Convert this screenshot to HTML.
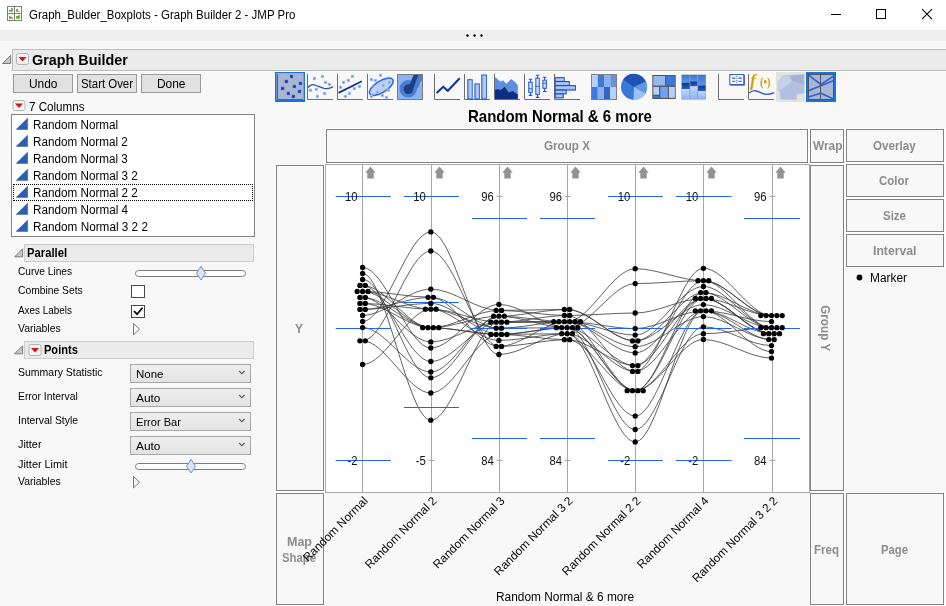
<!DOCTYPE html>
<html><head><meta charset="utf-8"><title>Graph_Bulder_Boxplots - Graph Builder 2 - JMP Pro</title>
<style>
html,body{margin:0;padding:0}
body{width:946px;height:606px;overflow:hidden;position:relative;background:#f8f8f8;font-family:"Liberation Sans",sans-serif;font-size:12px;color:#000}
.a{position:absolute}
.t{position:absolute;white-space:pre;line-height:1;transform-origin:0 50%}
.titlebar{left:0;top:0;width:946px;height:30px;background:#fff}
.menuband{left:0;top:30px;width:946px;height:11px;background:#f0f0f0}
.hdr{left:12px;top:49px;width:940px;height:22px;background:#ebebeb;border:1px solid #bdbdbd;box-sizing:border-box}
.btn{position:absolute;box-sizing:border-box;border:1px solid #9a9a9a;background:#e1e1e1;height:19px;top:74px}
.list{left:11px;top:114px;width:244px;height:123px;background:#fff;border:1px solid #828282;box-sizing:border-box}
.sec{position:absolute;left:24px;width:230px;height:18px;background:#ebebeb;border:1px solid #cdcdcd;box-sizing:border-box}
.sel{position:absolute;left:130px;width:121px;height:19px;box-sizing:border-box;border:1px solid #a8a8a8;background:linear-gradient(#efefef,#e2e2e2)}
.chk{position:absolute;left:131px;width:14px;height:13px;box-sizing:border-box;border:1px solid #4a4a4a;background:#fff}
.trk{position:absolute;left:135px;width:111px;height:7px;box-sizing:border-box;border:1px solid #7c7c7c;border-radius:3.5px;background:#fff}
.zone{position:absolute;box-sizing:border-box;border:1px solid #828282;background:#f8f8f8;outline:1px solid #fff;color:#8a8a8a;font-weight:bold}
svg{position:absolute;left:0;top:0;overflow:visible}
.al{font-family:"Liberation Sans",sans-serif;font-size:11.3px;fill:#111}
.rl{font-family:"Liberation Sans",sans-serif;font-size:11.8px;fill:#000}
.zt{font-family:"Liberation Sans",sans-serif;font-size:13.5px;font-weight:bold;fill:#8c8c8c}
</style></head><body>
<div class="a titlebar"></div>
<div class="a menuband"></div>
<div class="a hdr"></div>

<!-- title bar -->
<svg width="946" height="48" viewBox="0 0 946 48">
<rect x="7.5" y="6.5" width="14" height="14" fill="#fff" stroke="#7e7e7e"/>
<path d="M14.5 7v13M8 13.5h13" stroke="#7e7e7e" fill="none"/>
<path d="M9 11.8V10h2.1V8h1.7v3.8zM16.1 11.8V9H18v2h2v.800zM9 18.8V16h1.6v1h2.2v1.8zM16.1 18.8V16h2.1v-.900h1.6v3.7z" fill="#68a828"/>
<path d="M831 14.5h10" stroke="#000" fill="none"/>
<rect x="876.5" y="9.5" width="9" height="9" fill="none" stroke="#000"/>
<path d="M922 9.2l10 10M932 9.2l-10 10" stroke="#000" stroke-width="1.1" fill="none"/>
<circle cx="467.5" cy="35.5" r="1.2"/><circle cx="474.5" cy="35.5" r="1.2"/><circle cx="481.5" cy="35.5" r="1.2"/>
</svg>
<span class="t" style="left:28.5px;top:9px;font-size:12.5px;transform:scaleX(.918)">Graph_Bulder_Boxplots - Graph Builder 2 - JMP Pro</span>

<!-- LEFT PANEL -->
<span class="t" style="left:32.4px;top:51.86px;font-size:15.4px;font-weight:bold;transform:scaleX(0.933);">Graph Builder</span>
<div class="btn" style="left:13px;width:60px"></div><div class="btn" style="left:77px;width:60px"></div><div class="btn" style="left:141px;width:60px"></div>
<span class="t" style="left:28.75px;top:78.04px;transform:scaleX(0.993);">Undo</span>
<span class="t" style="left:81px;top:78.04px;transform:scaleX(0.951);">Start Over</span>
<span class="t" style="left:156.75px;top:78.04px;transform:scaleX(0.993);">Done</span>
<span class="t" style="left:28.5px;top:100.84px;transform:scaleX(0.968);">7 Columns</span>
<div class="a list"></div><div class="a" style="left:13px;top:184px;width:240px;height:17px;box-sizing:border-box;border:1px dotted #000"></div>
<span class="t" style="left:33.2px;top:118.54px;transform:scaleX(0.975);">Random Normal</span>
<span class="t" style="left:33.2px;top:135.54px;transform:scaleX(0.973);">Random Normal 2</span>
<span class="t" style="left:33.2px;top:152.54px;transform:scaleX(0.973);">Random Normal 3</span>
<span class="t" style="left:33.2px;top:169.54px;transform:scaleX(0.976);">Random Normal 3 2</span>
<span class="t" style="left:33.2px;top:186.54px;transform:scaleX(0.976);">Random Normal 2 2</span>
<span class="t" style="left:33.2px;top:203.54px;transform:scaleX(0.976);">Random Normal 4</span>
<span class="t" style="left:33.2px;top:220.54px;transform:scaleX(0.979);">Random Normal 3 2 2</span>
<div class="sec" style="top:244px"></div><div class="sec" style="top:341px"></div>
<span class="t" style="left:27.3px;top:245.87px;font-size:13.5px;font-weight:bold;transform:scaleX(0.833);">Parallel</span>
<span class="t" style="left:44px;top:342.87px;font-size:13.5px;font-weight:bold;transform:scaleX(0.819);">Points</span>
<span class="t" style="left:18.3px;top:265.73px;font-size:10.6px;transform:scaleX(0.955);">Curve Lines</span>
<span class="t" style="left:18.3px;top:284.63px;font-size:10.6px;transform:scaleX(0.972);">Combine Sets</span>
<span class="t" style="left:18.3px;top:304.83px;font-size:10.6px;transform:scaleX(0.936);">Axes Labels</span>
<span class="t" style="left:18.3px;top:322.63px;font-size:10.6px;transform:scaleX(0.984);">Variables</span>
<span class="t" style="left:18.3px;top:366.83px;font-size:10.6px;transform:scaleX(0.99);">Summary Statistic</span>
<span class="t" style="left:18.3px;top:390.63px;font-size:10.6px;transform:scaleX(0.975);">Error Interval</span>
<span class="t" style="left:18.3px;top:414.63px;font-size:10.6px;transform:scaleX(0.98);">Interval Style</span>
<span class="t" style="left:18.3px;top:438.53px;font-size:10.6px;transform:scaleX(1.023);">Jitter</span>
<span class="t" style="left:18.3px;top:458.63px;font-size:10.6px;transform:scaleX(1.025);">Jitter Limit</span>
<span class="t" style="left:18.3px;top:475.53px;font-size:10.6px;transform:scaleX(0.984);">Variables</span>
<div class="trk" style="top:270px"></div><div class="trk" style="top:463px"></div>
<div class="chk" style="top:285px"></div><div class="chk" style="top:305px"></div>
<div class="sel" style="top:364px"></div>
<span class="t" style="left:136.4px;top:368.89px;font-size:11px;transform:scaleX(1.046);">None</span>
<div class="sel" style="top:388px"></div>
<span class="t" style="left:136.4px;top:392.89px;font-size:11px;transform:scaleX(1.082);">Auto</span>
<div class="sel" style="top:412px"></div>
<span class="t" style="left:136.4px;top:416.89px;font-size:11px;transform:scaleX(1.008);">Error Bar</span>
<div class="sel" style="top:436px"></div>
<span class="t" style="left:136.4px;top:440.89px;font-size:11px;transform:scaleX(1.082);">Auto</span>
<svg width="270" height="606" viewBox="0 0 270 606"><path d="M2.5 63.5l8.2 0 0 -8.2z" fill="#c6c6c6" stroke="#7c7c7c" stroke-width="1" stroke-linejoin="miter"/><rect x="16.5" y="53.5" width="12" height="11" rx="2" fill="#f4f4f4" stroke="#b4b4b4"/><path d="M18.5 57h8l-4 4.5z" fill="#e01010"/><rect x="13" y="100.5" width="12" height="10" rx="2" fill="#f4f4f4" stroke="#b4b4b4"/><path d="M15 103.5h8l-4 4.5z" fill="#e01010"/><path d="M15.8 129.5L27.8 129.5L27.8 117.8z" fill="#2b5fb6"/><path d="M16.5 129.5H27.6V119" fill="none" stroke="#6f7890" stroke-width=".8"/><path d="M15.8 146.5L27.8 146.5L27.8 134.8z" fill="#2b5fb6"/><path d="M16.5 146.5H27.6V136" fill="none" stroke="#6f7890" stroke-width=".8"/><path d="M15.8 163.5L27.8 163.5L27.8 151.8z" fill="#2b5fb6"/><path d="M16.5 163.5H27.6V153" fill="none" stroke="#6f7890" stroke-width=".8"/><path d="M15.8 180.5L27.8 180.5L27.8 168.8z" fill="#2b5fb6"/><path d="M16.5 180.5H27.6V170" fill="none" stroke="#6f7890" stroke-width=".8"/><path d="M15.8 197.5L27.8 197.5L27.8 185.8z" fill="#2b5fb6"/><path d="M16.5 197.5H27.6V187" fill="none" stroke="#6f7890" stroke-width=".8"/><path d="M15.8 214.5L27.8 214.5L27.8 202.8z" fill="#2b5fb6"/><path d="M16.5 214.5H27.6V204" fill="none" stroke="#6f7890" stroke-width=".8"/><path d="M15.8 231.5L27.8 231.5L27.8 219.8z" fill="#2b5fb6"/><path d="M16.5 231.5H27.6V221" fill="none" stroke="#6f7890" stroke-width=".8"/><path d="M14.6 256.8l8 0 0 -8z" fill="#c6c6c6" stroke="#7c7c7c" stroke-width="1" stroke-linejoin="miter"/><path d="M14.6 353.8l8 0 0 -8z" fill="#c6c6c6" stroke="#7c7c7c" stroke-width="1" stroke-linejoin="miter"/><rect x="29" y="344.5" width="12" height="11" rx="2" fill="#f4f4f4" stroke="#b4b4b4"/><path d="M31 348h8l-4 4.5z" fill="#e01010"/><path d="M133.5 323.5l6 5.7 -6 5.7z" fill="#f8f8f8" stroke="#777"/><path d="M133.5 476.5l6 5.7 -6 5.7z" fill="#f8f8f8" stroke="#777"/><path d="M134 311l3 3.2 5.5 -6.5" fill="none" stroke="#000" stroke-width="1.7"/><path d="M239 370.9l2.8 2.8 2.8 -2.8" fill="none" stroke="#555" stroke-width="1.1"/><path d="M239 394.9l2.8 2.8 2.8 -2.8" fill="none" stroke="#555" stroke-width="1.1"/><path d="M239 418.9l2.8 2.8 2.8 -2.8" fill="none" stroke="#555" stroke-width="1.1"/><path d="M239 442.9l2.8 2.8 2.8 -2.8" fill="none" stroke="#555" stroke-width="1.1"/><path d="M201 266.4l4.5 6.8 -4.5 6.8 -4.5 -6.8z" fill="#d9e6f7" stroke="#6f93c2"/><path d="M191 459.4l4.5 6.8 -4.5 6.8 -4.5 -6.8z" fill="#d9e6f7" stroke="#6f93c2"/></svg>

<!-- TOOLBAR -->
<svg width="946" height="110" viewBox="0 0 946 110">
<rect x="275" y="72" width="30" height="30" fill="#1874d6"/>
<rect x="276.5" y="73.1" width="27.2" height="26.9" fill="#a9b5d6"/>
<path d="M277.5 74V99.5H303" fill="none" stroke="#5a6078" stroke-width="1"/>
<rect x="289.9" y="74.8" width="3.3" height="3.3" fill="#3a62bc"/>
<rect x="290.7" y="75.6" width="1.6" height="1.6" fill="#0b2f96"/>
<rect x="284.7" y="79.8" width="3.3" height="3.3" fill="#3a62bc"/>
<rect x="285.5" y="80.6" width="1.6" height="1.6" fill="#0b2f96"/>
<rect x="298.8" y="81.8" width="3.3" height="3.3" fill="#3a62bc"/>
<rect x="299.6" y="82.6" width="1.6" height="1.6" fill="#0b2f96"/>
<rect x="292.7" y="84.8" width="3.3" height="3.3" fill="#3a62bc"/>
<rect x="293.5" y="85.7" width="1.6" height="1.6" fill="#0b2f96"/>
<rect x="280.9" y="86.8" width="3.3" height="3.3" fill="#3a62bc"/>
<rect x="281.7" y="87.7" width="1.6" height="1.6" fill="#0b2f96"/>
<rect x="297.8" y="89.8" width="3.3" height="3.3" fill="#3a62bc"/>
<rect x="298.6" y="90.7" width="1.6" height="1.6" fill="#0b2f96"/>
<rect x="286.7" y="91.8" width="3.3" height="3.3" fill="#3a62bc"/>
<rect x="287.5" y="92.6" width="1.6" height="1.6" fill="#0b2f96"/>
<rect x="291.7" y="94.8" width="3.3" height="3.3" fill="#3a62bc"/>
<rect x="292.5" y="95.6" width="1.6" height="1.6" fill="#0b2f96"/>
<path d="M307.5 74V99.5H333" fill="none" stroke="#6e6e6e" stroke-width="1"/>
<rect x="312.8" y="76.9" width="3.2" height="3.2" fill="#a9c6f3"/>
<rect x="313.6" y="77.7" width="1.6" height="1.6" fill="#5f8fdd"/>
<rect x="320.8" y="74.8" width="3.2" height="3.2" fill="#a9c6f3"/>
<rect x="321.6" y="75.6" width="1.6" height="1.6" fill="#5f8fdd"/>
<rect x="323.9" y="80.8" width="3.2" height="3.2" fill="#a9c6f3"/>
<rect x="324.7" y="81.6" width="1.6" height="1.6" fill="#5f8fdd"/>
<rect x="327.8" y="82.8" width="3.2" height="3.2" fill="#a9c6f3"/>
<rect x="328.6" y="83.6" width="1.6" height="1.6" fill="#5f8fdd"/>
<rect x="308.8" y="88.7" width="3.2" height="3.2" fill="#a9c6f3"/>
<rect x="309.6" y="89.5" width="1.6" height="1.6" fill="#5f8fdd"/>
<rect x="314.7" y="87.7" width="3.2" height="3.2" fill="#a9c6f3"/>
<rect x="315.5" y="88.5" width="1.6" height="1.6" fill="#5f8fdd"/>
<rect x="322.9" y="91.8" width="3.2" height="3.2" fill="#a9c6f3"/>
<rect x="323.7" y="92.6" width="1.6" height="1.6" fill="#5f8fdd"/>
<rect x="315.8" y="94.8" width="3.2" height="3.2" fill="#a9c6f3"/>
<rect x="316.6" y="95.6" width="1.6" height="1.6" fill="#5f8fdd"/>
<path d="M308 87.5C310 85 312 84.4 314 84.8C317.5 85.5 320.5 87.5 324 88.3C327.5 89 330.5 88.3 333 86.6" fill="none" stroke="#2a4fa6" stroke-width="1.3"/>
<path d="M337.5 74V99.5H363" fill="none" stroke="#6e6e6e" stroke-width="1"/>
<rect x="350.9" y="74.8" width="3.2" height="3.2" fill="#a9c6f3"/>
<rect x="351.7" y="75.6" width="1.6" height="1.6" fill="#5f8fdd"/>
<rect x="346.8" y="78.8" width="3.2" height="3.2" fill="#a9c6f3"/>
<rect x="347.6" y="79.6" width="1.6" height="1.6" fill="#5f8fdd"/>
<rect x="341.8" y="80.8" width="3.2" height="3.2" fill="#a9c6f3"/>
<rect x="342.6" y="81.6" width="1.6" height="1.6" fill="#5f8fdd"/>
<rect x="338.9" y="85.7" width="3.2" height="3.2" fill="#a9c6f3"/>
<rect x="339.7" y="86.5" width="1.6" height="1.6" fill="#5f8fdd"/>
<rect x="357.9" y="84.9" width="3.2" height="3.2" fill="#a9c6f3"/>
<rect x="358.7" y="85.7" width="1.6" height="1.6" fill="#5f8fdd"/>
<rect x="352.8" y="86.9" width="3.2" height="3.2" fill="#a9c6f3"/>
<rect x="353.6" y="87.7" width="1.6" height="1.6" fill="#5f8fdd"/>
<rect x="347.8" y="91.8" width="3.2" height="3.2" fill="#a9c6f3"/>
<rect x="348.6" y="92.6" width="1.6" height="1.6" fill="#5f8fdd"/>
<rect x="343.8" y="94.8" width="3.2" height="3.2" fill="#a9c6f3"/>
<rect x="344.6" y="95.6" width="1.6" height="1.6" fill="#5f8fdd"/>
<path d="M338.5 92.9L361.8 81.2" fill="none" stroke="#12309a" stroke-width="1.8"/>
<path d="M367.5 74V99.5H393" fill="none" stroke="#6e6e6e" stroke-width="1"/>
<ellipse cx="381.3" cy="86.8" rx="13.5" ry="5.8" transform="rotate(-32 381.3 86.8)" fill="#bccff7" stroke="#2e66da" stroke-width="1.5"/>
<rect x="378.9" y="73.7" width="3.2" height="3.2" fill="#a9c6f3"/>
<rect x="379.7" y="74.5" width="1.6" height="1.6" fill="#5f8fdd"/>
<rect x="369.8" y="77.9" width="3.2" height="3.2" fill="#a9c6f3"/>
<rect x="370.6" y="78.7" width="1.6" height="1.6" fill="#5f8fdd"/>
<rect x="373.8" y="78.9" width="3.2" height="3.2" fill="#a9c6f3"/>
<rect x="374.6" y="79.7" width="1.6" height="1.6" fill="#5f8fdd"/>
<rect x="387.8" y="80.8" width="3.2" height="3.2" fill="#a9c6f3"/>
<rect x="388.6" y="81.6" width="1.6" height="1.6" fill="#5f8fdd"/>
<rect x="381.7" y="83.9" width="3.2" height="3.2" fill="#a9c6f3"/>
<rect x="382.5" y="84.7" width="1.6" height="1.6" fill="#5f8fdd"/>
<rect x="386.8" y="88.7" width="3.2" height="3.2" fill="#a9c6f3"/>
<rect x="387.6" y="89.5" width="1.6" height="1.6" fill="#5f8fdd"/>
<rect x="375.8" y="90.8" width="3.2" height="3.2" fill="#a9c6f3"/>
<rect x="376.6" y="91.6" width="1.6" height="1.6" fill="#5f8fdd"/>
<rect x="380.7" y="93.8" width="3.2" height="3.2" fill="#a9c6f3"/>
<rect x="381.5" y="94.6" width="1.6" height="1.6" fill="#5f8fdd"/>
<rect x="369.8" y="94.8" width="3.2" height="3.2" fill="#a9c6f3"/>
<rect x="370.6" y="95.6" width="1.6" height="1.6" fill="#5f8fdd"/>
<rect x="384.8" y="95.8" width="3.2" height="3.2" fill="#a9c6f3"/>
<rect x="385.6" y="96.6" width="1.6" height="1.6" fill="#5f8fdd"/>
<clipPath id="c5"><rect x="397.5" y="74.5" width="25" height="25"/></clipPath>
<rect x="397.5" y="74.5" width="25" height="25" fill="#8bb2f0"/>
<g clip-path="url(#c5)"><circle cx="408.2" cy="88.8" r="8.7" fill="#4c7cce"/><path d="M409 81.5C412 80 412.5 77 413.5 74h10v4.5C421 81 419.5 84 418.5 87L414 93z" fill="#4c7cce"/><circle cx="408.4" cy="89.3" r="4.8" fill="#1c3f86"/><path d="M407.5 85.5C411 84.5 412 79 414.2 74h4.6C417 78.5 415.5 82 414.5 85.5L412.5 91z" fill="#1c3f86"/></g>
<rect x="397.5" y="74.5" width="25" height="25" fill="none" stroke="#7c7c7c"/>
<path d="M434.5 74V99.5H460" fill="none" stroke="#6e6e6e" stroke-width="1"/>
<path d="M436.6 92.9L443.2 86.8L447.8 90.8L459.7 78.2" fill="none" stroke="#12309a" stroke-width="2" stroke-linejoin="miter"/>
<path d="M464.5 74V99.5H490" fill="none" stroke="#6e6e6e" stroke-width="1"/>
<linearGradient id="gb" x1="0" x2="1" y1="0" y2="0"><stop offset="0" stop-color="#8fb4f6"/><stop offset="1" stop-color="#c9dcff"/></linearGradient>
<rect x="467.8" y="79.7" width="4.4" height="19.3" fill="url(#gb)" stroke="#2458c8" stroke-width="1"/>
<rect x="474.9" y="83.9" width="4.4" height="15.1" fill="url(#gb)" stroke="#2458c8" stroke-width="1"/>
<rect x="481.8" y="75" width="4.6" height="24" fill="url(#gb)" stroke="#2458c8" stroke-width="1"/>
<path d="M494.5 74V99.5H520" fill="none" stroke="#6e6e6e" stroke-width="1"/>
<path d="M495 77.1L500.6 81.7L503.1 80.2L506.2 83.7L511.2 79L515.3 82.2L517.8 85.3V99H495z" fill="#5c8edc"/>
<path d="M495 89.8L499 89.3L500.6 90.3L504.7 86.8L508.7 92.4L512.8 91.1L516.3 93.4L517.8 93.9V99H495z" fill="#0d2e84"/>
<path d="M524.5 74V99.5H550" fill="none" stroke="#6e6e6e" stroke-width="1"/>
<path d="M530.5 79.2V95.4M528.7 79.2h3.6M528.7 95.4h3.6" stroke="#2458c8" stroke-width="1.1" fill="none"/>
<rect x="528.7" y="82.2" width="3.5" height="10.2" fill="#cfe0ff" stroke="#2e66da" stroke-width="1.1"/>
<path d="M528.7 88.8H532.2" stroke="#2e66da" stroke-width="1"/>
<path d="M537.5 75.3V97.4M535.8 75.3h3.6M535.8 97.4h3.6" stroke="#2458c8" stroke-width="1.1" fill="none"/>
<rect x="535.8" y="78.2" width="3.5" height="16.2" fill="#cfe0ff" stroke="#2e66da" stroke-width="1.1"/>
<path d="M535.8 86.3H539.3" stroke="#2e66da" stroke-width="1"/>
<path d="M544.6 77.3V91.5M542.9 77.3h3.6M542.9 91.5h3.6" stroke="#2458c8" stroke-width="1.1" fill="none"/>
<rect x="542.9" y="80.2" width="3.5" height="8.1" fill="#cfe0ff" stroke="#2e66da" stroke-width="1.1"/>
<path d="M542.9 83.2H546.4" stroke="#2e66da" stroke-width="1"/>
<path d="M554.5 74V99.5H580" fill="none" stroke="#6e6e6e" stroke-width="1"/>
<linearGradient id="gh" x1="0" x2="0" y1="0" y2="1"><stop offset="0" stop-color="#7fa8f2"/><stop offset=".5" stop-color="#b4cdfb"/><stop offset="1" stop-color="#7fa8f2"/></linearGradient>
<rect x="555.2" y="77.6" width="9" height="3.9" fill="url(#gh)" stroke="#1d4dba" stroke-width="1"/>
<rect x="555.2" y="81.5" width="14.1" height="4.1" fill="url(#gh)" stroke="#1d4dba" stroke-width="1"/>
<rect x="555.2" y="85.6" width="20.2" height="4.5" fill="url(#gh)" stroke="#1d4dba" stroke-width="1"/>
<rect x="555.2" y="90.1" width="11" height="3.8" fill="url(#gh)" stroke="#1d4dba" stroke-width="1"/>
<rect x="555.2" y="93.9" width="8" height="4" fill="url(#gh)" stroke="#1d4dba" stroke-width="1"/>
<rect x="591.5" y="74.5" width="6.3" height="12.5" fill="#b6d1fc"/>
<rect x="597.75" y="74.5" width="6.3" height="12.5" fill="#3c79da"/>
<rect x="604" y="74.5" width="6.3" height="12.5" fill="#8db1f1"/>
<rect x="610.25" y="74.5" width="6.3" height="12.5" fill="#6a92da"/>
<rect x="591.5" y="87" width="6.3" height="12.5" fill="#3c79da"/>
<rect x="597.75" y="87" width="6.3" height="12.5" fill="#8daeee"/>
<rect x="604" y="87" width="6.3" height="12.5" fill="#3565c2"/>
<rect x="610.25" y="87" width="6.3" height="12.5" fill="#b6d1fc"/>
<rect x="591.5" y="74.5" width="25" height="25" fill="none" stroke="#808080"/>
<circle cx="634" cy="86.9" r="13" fill="#3878d8"/>
<path d="M634 86.9L623.2 79.6A13 13 0 0 1 645.8 81.4z" fill="#2150b6"/>
<path d="M634 86.9L645.8 81.4A13 13 0 0 1 645.3 93.4z" fill="#5e98e2"/>
<path d="M634 86.9L645.3 93.4A13 13 0 0 1 633.5 99.9z" fill="#a2c0f8"/>
<rect x="652.3" y="75" width="23.4" height="24" fill="#555"/>
<rect x="653.3" y="76" width="11.8" height="9.6" fill="#98b8f0"/>
<rect x="666.1" y="76" width="8.8" height="9.6" fill="#3878d8"/>
<rect x="653.3" y="86.9" width="5.8" height="7.8" fill="#b2d0fc"/>
<rect x="653.3" y="95.9" width="5.8" height="2" fill="#3878d8"/>
<rect x="660.3" y="86.9" width="7.6" height="11" fill="#70a0f8"/>
<rect x="668.9" y="86.9" width="6" height="11" fill="#b2d0fc"/>
<linearGradient id="gm1" x1="0" x2="0" y1="0" y2="1"><stop offset="0" stop-color="#3a74d6"/><stop offset="1" stop-color="#5e94e4"/></linearGradient>
<linearGradient id="gm2" x1="0" x2="0" y1="0" y2="1"><stop offset="0" stop-color="#0c3596"/><stop offset="1" stop-color="#2c5cc0"/></linearGradient>
<linearGradient id="gm3" x1="0" x2="0" y1="0" y2="1"><stop offset="0" stop-color="#c4dafe"/><stop offset="1" stop-color="#8cb0f2"/></linearGradient>
<rect x="681.5" y="74.5" width="24.5" height="25" fill="#9a9a9a"/>
<rect x="681.8" y="75" width="7.7" height="7.9" fill="url(#gm1)"/>
<rect x="681.8" y="82.9" width="7.7" height="6.1" fill="url(#gm2)"/>
<rect x="681.8" y="89" width="7.7" height="10.2" fill="url(#gm3)"/>
<rect x="690.3" y="75" width="7" height="6.5" fill="url(#gm1)"/>
<rect x="690.3" y="81.5" width="7" height="4.7" fill="url(#gm2)"/>
<rect x="690.3" y="86.3" width="7" height="12.9" fill="url(#gm3)"/>
<rect x="698.2" y="75" width="7.3" height="10.6" fill="url(#gm1)"/>
<rect x="698.2" y="85.6" width="7.3" height="5.4" fill="url(#gm2)"/>
<rect x="698.2" y="91" width="7.3" height="8.2" fill="url(#gm3)"/>
<path d="M718.5 74V99.5H744" fill="none" stroke="#6e6e6e" stroke-width="1"/>
<rect x="730.3" y="75.1" width="14.4" height="10.4" fill="#16389a"/>
<rect x="729.8" y="74.6" width="14" height="10" fill="#fff" stroke="#2a55c4" stroke-width="1"/>
<path d="M732 78.1h3.3M738.4 78.1h3.4M732 81.3h3.3M738.4 81.3h3.4" stroke="#2a55c4" stroke-width="1.1"/>
<path d="M736.9 76v7.5" stroke="#2a55c4" stroke-width="1" stroke-dasharray="1 1"/>
<path d="M748.5 74V99.5H774" fill="none" stroke="#6e6e6e" stroke-width="1"/>
<text x="750" y="85.8" font-family="Liberation Serif,serif" font-style="italic" font-weight="bold" font-size="17.5" fill="#d8a200">f</text>
<text x="760" y="85.5" font-family="Liberation Serif,serif" font-weight="bold" font-size="12.5" fill="#d8a200" textLength="10.5" lengthAdjust="spacingAndGlyphs">(&#8226;)</text>
<path d="M749.2 93C751 91.5 753 90.4 755.3 90.7C759 91.2 762 94.2 766.1 94.4C769 94.5 771.5 93.8 774 92.6" fill="none" stroke="#2c5cc0" stroke-width="1.4"/>
<rect x="776" y="72" width="29.5" height="30" fill="#e3e3e3"/>
<path d="M780.3 79.5L782.4 76.1L804 74.5L804 93L796.6 94.4L796.6 99.4L780.3 99.4L780.3 92.4L778.3 91L778.3 81.5z" fill="#b1c0e1" stroke="#c6cad4" stroke-width=".8"/>
<path d="M788.5 75.4L804 74.5L804 85.6L791.8 81.5z" fill="#a5b4d5" stroke="#c4c8d0" stroke-width=".8"/>
<path d="M782.4 76.1L788.5 75.4L791.8 81.5L780.3 90.3L778.3 89.7L778.3 81.5L780.3 79.5z" fill="#c6d2ec" stroke="#c4c8d0" stroke-width=".8"/>
<rect x="806" y="72" width="30" height="30" fill="#1874d6"/>
<rect x="808" y="74" width="26" height="26" fill="#a9b5d6"/>
<path d="M808.3 74.8L820.9 84.5L833.1 76.4M808.3 90.7L833.1 80.7M808.3 97.1L820.9 93.2L833.1 98.9" fill="none" stroke="#3062cc" stroke-width="1.6"/>
<rect x="808.5" y="74.5" width="25" height="25" fill="none" stroke="#4c5468" stroke-width="1"/>
<path d="M820.5 74.5V99.5" stroke="#4c5468" stroke-width="1"/>
</svg>

<!-- ZONES -->
<div class="zone" style="left:326px;top:129px;width:482px;height:34px"></div>
<div class="zone" style="left:810px;top:129px;width:34px;height:34px"></div>
<div class="zone" style="left:846px;top:129px;width:98px;height:33px"></div>
<div class="zone" style="left:846px;top:164px;width:98px;height:33px"></div>
<div class="zone" style="left:846px;top:199px;width:98px;height:33px"></div>
<div class="zone" style="left:846px;top:234px;width:98px;height:33px"></div>
<div class="zone" style="left:276px;top:165px;width:48px;height:326px"></div>
<div class="zone" style="left:810px;top:165px;width:34px;height:326px"></div>
<div class="zone" style="left:276px;top:493px;width:48px;height:112px"></div>
<div class="zone" style="left:810px;top:493px;width:34px;height:112px"></div>
<div class="zone" style="left:846px;top:493px;width:98px;height:112px"></div>
<div class="a" style="left:325px;top:164px;width:485px;height:329px;box-sizing:border-box;background:#fff;border:1px solid #a8a8a8"></div>
<span class="t" style="left:544px;top:139.07px;font-size:13.5px;font-weight:bold;color:#8c8c8c;transform:scaleX(0.864);">Group X</span>
<span class="t" style="left:812.55px;top:139.07px;font-size:13.5px;font-weight:bold;color:#8c8c8c;transform:scaleX(0.88);">Wrap</span>
<span class="t" style="left:873.2px;top:139.07px;font-size:13.5px;font-weight:bold;color:#8c8c8c;transform:scaleX(0.86);">Overlay</span>
<span class="t" style="left:879.2px;top:174.07px;font-size:13.5px;font-weight:bold;color:#8c8c8c;transform:scaleX(0.851);">Color</span>
<span class="t" style="left:883px;top:209.07px;font-size:13.5px;font-weight:bold;color:#8c8c8c;transform:scaleX(0.851);">Size</span>
<span class="t" style="left:872.75px;top:244.07px;font-size:13.5px;font-weight:bold;color:#8c8c8c;transform:scaleX(0.906);">Interval</span>
<span class="t" style="left:295.2px;top:321.97px;font-size:13.5px;font-weight:bold;color:#8c8c8c;transform:scaleX(0.887);">Y</span>
<span class="t" style="left:287.2px;top:535.07px;font-size:13.5px;font-weight:bold;color:#8c8c8c;transform:scaleX(0.926);">Map</span>
<span class="t" style="left:282.2px;top:550.87px;font-size:13.5px;font-weight:bold;color:#8c8c8c;transform:scaleX(0.839);">Shape</span>
<span class="t" style="left:813.8px;top:542.57px;font-size:13.5px;font-weight:bold;color:#8c8c8c;transform:scaleX(0.854);">Freq</span>
<span class="t" style="left:881px;top:542.57px;font-size:13.5px;font-weight:bold;color:#8c8c8c;transform:scaleX(0.836);">Page</span>
<span class="t" style="left:870px;top:271.84px;transform:scaleX(0.991);">Marker</span>
<span class="t" style="left:468px;top:108.2px;font-size:16.3px;font-weight:bold;transform:scaleX(0.92);">Random Normal &amp; 6 more</span>
<span class="t" style="left:496px;top:591.14px;transform:scaleX(0.99);">Random Normal &amp; 6 more</span>

<svg width="946" height="606" viewBox="0 0 946 606">
<line x1="362.5" y1="165" x2="362.5" y2="492" stroke="#a6a6a6" stroke-width="1"/>
<line x1="431.5" y1="165" x2="431.5" y2="492" stroke="#a6a6a6" stroke-width="1"/>
<line x1="499.5" y1="165" x2="499.5" y2="492" stroke="#a6a6a6" stroke-width="1"/>
<line x1="567.5" y1="165" x2="567.5" y2="492" stroke="#a6a6a6" stroke-width="1"/>
<line x1="635.5" y1="165" x2="635.5" y2="492" stroke="#a6a6a6" stroke-width="1"/>
<line x1="703.5" y1="165" x2="703.5" y2="492" stroke="#a6a6a6" stroke-width="1"/>
<line x1="772.5" y1="165" x2="772.5" y2="492" stroke="#a6a6a6" stroke-width="1"/>
<path d="M370.5 166.4l5.2 6.4h-2v5.6h-6.4v-5.6h-2z" fill="#929292"/>
<path d="M439.5 166.4l5.2 6.4h-2v5.6h-6.4v-5.6h-2z" fill="#929292"/>
<path d="M507.5 166.4l5.2 6.4h-2v5.6h-6.4v-5.6h-2z" fill="#929292"/>
<path d="M575.5 166.4l5.2 6.4h-2v5.6h-6.4v-5.6h-2z" fill="#929292"/>
<path d="M643.5 166.4l5.2 6.4h-2v5.6h-6.4v-5.6h-2z" fill="#929292"/>
<path d="M711.5 166.4l5.2 6.4h-2v5.6h-6.4v-5.6h-2z" fill="#929292"/>
<path d="M780.5 166.4l5.2 6.4h-2v5.6h-6.4v-5.6h-2z" fill="#929292"/>
<path d="M362.6 267.5C385.3 267.5 408 348 430.8 348C453.5 348 476.2 304.4 498.9 304.4C521.6 304.4 544.3 327.7 567.1 327.7C589.8 327.7 612.5 283.6 635.2 283.6C657.9 283.6 680.6 280.7 703.4 280.7C726.1 280.7 748.8 327.7 771.5 327.7" fill="none" stroke="#383838" stroke-width="0.8"/>
<path d="M362.6 273.5C385.3 273.5 408 420.2 430.8 420.2C453.5 420.2 476.2 322.2 498.9 322.2C521.6 322.2 544.3 321.7 567.1 321.7C589.8 321.7 612.5 335.1 635.2 335.1C657.9 335.1 680.6 286.5 703.4 286.5C726.1 286.5 748.8 327.7 771.5 327.7" fill="none" stroke="#383838" stroke-width="0.8"/>
<path d="M362.6 279.4C385.3 279.4 408 377.8 430.8 377.8C453.5 377.8 476.2 316.2 498.9 316.2C521.6 316.2 544.3 309.5 567.1 309.5C589.8 309.5 612.5 340.9 635.2 340.9C657.9 340.9 680.6 292.6 703.4 292.6C726.1 292.6 748.8 315.6 771.5 315.6" fill="none" stroke="#383838" stroke-width="0.8"/>
<path d="M362.6 285.4C385.3 285.4 408 361.5 430.8 361.5C453.5 361.5 476.2 322.2 498.9 322.2C521.6 322.2 544.3 321.7 567.1 321.7C589.8 321.7 612.5 352.9 635.2 352.9C657.9 352.9 680.6 298.5 703.4 298.5C726.1 298.5 748.8 333.7 771.5 333.7" fill="none" stroke="#383838" stroke-width="0.8"/>
<path d="M362.6 285.4C385.3 285.4 408 327.7 430.8 327.7C453.5 327.7 476.2 310.4 498.9 310.4C521.6 310.4 544.3 315.5 567.1 315.5C589.8 315.5 612.5 313 635.2 313C657.9 313 680.6 298.5 703.4 298.5C726.1 298.5 748.8 333.7 771.5 333.7" fill="none" stroke="#383838" stroke-width="0.8"/>
<path d="M362.6 291.4C385.3 291.4 408 327.7 430.8 327.7C453.5 327.7 476.2 316.2 498.9 316.2C521.6 316.2 544.3 321.7 567.1 321.7C589.8 321.7 612.5 328.6 635.2 328.6C657.9 328.6 680.6 310.8 703.4 310.8C726.1 310.8 748.8 351.6 771.5 351.6" fill="none" stroke="#383838" stroke-width="0.8"/>
<path d="M362.6 291.4C385.3 291.4 408 297.3 430.8 297.3C453.5 297.3 476.2 328.2 498.9 328.2C521.6 328.2 544.3 327.7 567.1 327.7C589.8 327.7 612.5 390.7 635.2 390.7C657.9 390.7 680.6 292.6 703.4 292.6C726.1 292.6 748.8 327.7 771.5 327.7" fill="none" stroke="#383838" stroke-width="0.8"/>
<path d="M362.6 291.4C385.3 291.4 408 309.2 430.8 309.2C453.5 309.2 476.2 328.2 498.9 328.2C521.6 328.2 544.3 321.7 567.1 321.7C589.8 321.7 612.5 390.7 635.2 390.7C657.9 390.7 680.6 298.5 703.4 298.5C726.1 298.5 748.8 333.7 771.5 333.7" fill="none" stroke="#383838" stroke-width="0.8"/>
<path d="M362.6 297.4C385.3 297.4 408 341.9 430.8 341.9C453.5 341.9 476.2 322.2 498.9 322.2C521.6 322.2 544.3 315.5 567.1 315.5C589.8 315.5 612.5 371.4 635.2 371.4C657.9 371.4 680.6 268.3 703.4 268.3C726.1 268.3 748.8 315.6 771.5 315.6" fill="none" stroke="#383838" stroke-width="0.8"/>
<path d="M362.6 297.4C385.3 297.4 408 327.7 430.8 327.7C453.5 327.7 476.2 334.4 498.9 334.4C521.6 334.4 544.3 327.7 567.1 327.7C589.8 327.7 612.5 390.7 635.2 390.7C657.9 390.7 680.6 333.7 703.4 333.7C726.1 333.7 748.8 327.7 771.5 327.7" fill="none" stroke="#383838" stroke-width="0.8"/>
<path d="M362.6 303.4C385.3 303.4 408 327.7 430.8 327.7C453.5 327.7 476.2 334.4 498.9 334.4C521.6 334.4 544.3 339.7 567.1 339.7C589.8 339.7 612.5 390.7 635.2 390.7C657.9 390.7 680.6 339.5 703.4 339.5C726.1 339.5 748.8 358.1 771.5 358.1" fill="none" stroke="#383838" stroke-width="0.8"/>
<path d="M362.6 303.4C385.3 303.4 408 309.2 430.8 309.2C453.5 309.2 476.2 322.2 498.9 322.2C521.6 322.2 544.3 321.7 567.1 321.7C589.8 321.7 612.5 346.7 635.2 346.7C657.9 346.7 680.6 316.6 703.4 316.6C726.1 316.6 748.8 339.6 771.5 339.6" fill="none" stroke="#383838" stroke-width="0.8"/>
<path d="M362.6 309.4C385.3 309.4 408 303.4 430.8 303.4C453.5 303.4 476.2 334.4 498.9 334.4C521.6 334.4 544.3 333.7 567.1 333.7C589.8 333.7 612.5 416.1 635.2 416.1C657.9 416.1 680.6 310.8 703.4 310.8C726.1 310.8 748.8 333.7 771.5 333.7" fill="none" stroke="#383838" stroke-width="0.8"/>
<path d="M362.6 309.4C385.3 309.4 408 297.3 430.8 297.3C453.5 297.3 476.2 346.4 498.9 346.4C521.6 346.4 544.3 339.7 567.1 339.7C589.8 339.7 612.5 365.6 635.2 365.6C657.9 365.6 680.6 280.7 703.4 280.7C726.1 280.7 748.8 315.6 771.5 315.6" fill="none" stroke="#383838" stroke-width="0.8"/>
<path d="M362.6 315.4C385.3 315.4 408 289.1 430.8 289.1C453.5 289.1 476.2 310.4 498.9 310.4C521.6 310.4 544.3 309.5 567.1 309.5C589.8 309.5 612.5 340.9 635.2 340.9C657.9 340.9 680.6 304.6 703.4 304.6C726.1 304.6 748.8 327.7 771.5 327.7" fill="none" stroke="#383838" stroke-width="0.8"/>
<path d="M362.6 321.5C385.3 321.5 408 231.9 430.8 231.9C453.5 231.9 476.2 354.5 498.9 354.5C521.6 354.5 544.3 333.7 567.1 333.7C589.8 333.7 612.5 371.4 635.2 371.4C657.9 371.4 680.6 310.8 703.4 310.8C726.1 310.8 748.8 339.6 771.5 339.6" fill="none" stroke="#383838" stroke-width="0.8"/>
<path d="M362.6 327.6C385.3 327.6 408 372 430.8 372C453.5 372 476.2 316.2 498.9 316.2C521.6 316.2 544.3 327.7 567.1 327.7C589.8 327.7 612.5 365.6 635.2 365.6C657.9 365.6 680.6 298.5 703.4 298.5C726.1 298.5 748.8 315.6 771.5 315.6" fill="none" stroke="#383838" stroke-width="0.8"/>
<path d="M362.6 340.8C385.3 340.8 408 251 430.8 251C453.5 251 476.2 346.4 498.9 346.4C521.6 346.4 544.3 321.7 567.1 321.7C589.8 321.7 612.5 268.7 635.2 268.7C657.9 268.7 680.6 280.7 703.4 280.7C726.1 280.7 748.8 315.6 771.5 315.6" fill="none" stroke="#383838" stroke-width="0.8"/>
<path d="M362.6 340.8C385.3 340.8 408 393 430.8 393C453.5 393 476.2 334.4 498.9 334.4C521.6 334.4 544.3 327.7 567.1 327.7C589.8 327.7 612.5 429.5 635.2 429.5C657.9 429.5 680.6 326.8 703.4 326.8C726.1 326.8 748.8 345.6 771.5 345.6" fill="none" stroke="#383838" stroke-width="0.8"/>
<path d="M362.6 364.5C385.3 364.5 408 309.2 430.8 309.2C453.5 309.2 476.2 340.4 498.9 340.4C521.6 340.4 544.3 333.7 567.1 333.7C589.8 333.7 612.5 441.9 635.2 441.9C657.9 441.9 680.6 310.8 703.4 310.8C726.1 310.8 748.8 321.6 771.5 321.6" fill="none" stroke="#383838" stroke-width="0.8"/>
<line x1="335.7" y1="196.5" x2="390.8" y2="196.5" stroke="#2262f8" stroke-width="1"/>
<line x1="335.7" y1="328.5" x2="390.8" y2="328.5" stroke="#2262f8" stroke-width="1"/>
<line x1="335.7" y1="460.5" x2="390.8" y2="460.5" stroke="#2262f8" stroke-width="1"/>
<line x1="404" y1="196.5" x2="459" y2="196.5" stroke="#2262f8" stroke-width="1"/>
<line x1="404" y1="302.5" x2="459" y2="302.5" stroke="#2262f8" stroke-width="1"/>
<line x1="404" y1="407.5" x2="459" y2="407.5" stroke="#2262f8" stroke-width="1"/>
<line x1="472" y1="218.5" x2="527" y2="218.5" stroke="#2262f8" stroke-width="1"/>
<line x1="472" y1="328.5" x2="527" y2="328.5" stroke="#2262f8" stroke-width="1"/>
<line x1="472" y1="438.5" x2="527" y2="438.5" stroke="#2262f8" stroke-width="1"/>
<line x1="540" y1="218.5" x2="595" y2="218.5" stroke="#2262f8" stroke-width="1"/>
<line x1="540" y1="328.5" x2="595" y2="328.5" stroke="#2262f8" stroke-width="1"/>
<line x1="540" y1="438.5" x2="595" y2="438.5" stroke="#2262f8" stroke-width="1"/>
<line x1="608.2" y1="196.5" x2="662.8" y2="196.5" stroke="#2262f8" stroke-width="1"/>
<line x1="608.2" y1="328.5" x2="662.8" y2="328.5" stroke="#2262f8" stroke-width="1"/>
<line x1="608.2" y1="460.5" x2="662.8" y2="460.5" stroke="#2262f8" stroke-width="1"/>
<line x1="676" y1="196.5" x2="731.5" y2="196.5" stroke="#2262f8" stroke-width="1"/>
<line x1="676" y1="328.5" x2="731.5" y2="328.5" stroke="#2262f8" stroke-width="1"/>
<line x1="676" y1="460.5" x2="731.5" y2="460.5" stroke="#2262f8" stroke-width="1"/>
<line x1="744" y1="218.5" x2="800" y2="218.5" stroke="#2262f8" stroke-width="1"/>
<line x1="744" y1="328.5" x2="800" y2="328.5" stroke="#2262f8" stroke-width="1"/>
<line x1="744" y1="438.5" x2="800" y2="438.5" stroke="#2262f8" stroke-width="1"/>
<circle cx="362.6" cy="267.5" r="2.65"/>
<circle cx="362.6" cy="273.5" r="2.65"/>
<circle cx="362.6" cy="279.4" r="2.65"/>
<circle cx="359.9" cy="285.4" r="2.65"/>
<circle cx="365.3" cy="285.4" r="2.65"/>
<circle cx="357.2" cy="291.4" r="2.65"/>
<circle cx="362.6" cy="291.4" r="2.65"/>
<circle cx="368" cy="291.4" r="2.65"/>
<circle cx="359.9" cy="297.4" r="2.65"/>
<circle cx="365.3" cy="297.4" r="2.65"/>
<circle cx="359.9" cy="303.4" r="2.65"/>
<circle cx="365.3" cy="303.4" r="2.65"/>
<circle cx="359.9" cy="309.4" r="2.65"/>
<circle cx="365.3" cy="309.4" r="2.65"/>
<circle cx="362.6" cy="315.4" r="2.65"/>
<circle cx="362.6" cy="321.5" r="2.65"/>
<circle cx="362.6" cy="327.6" r="2.65"/>
<circle cx="359.9" cy="340.8" r="2.65"/>
<circle cx="365.3" cy="340.8" r="2.65"/>
<circle cx="362.6" cy="364.5" r="2.65"/>
<circle cx="430.8" cy="231.9" r="2.65"/>
<circle cx="430.8" cy="251" r="2.65"/>
<circle cx="430.8" cy="289.1" r="2.65"/>
<circle cx="428.1" cy="297.3" r="2.65"/>
<circle cx="433.4" cy="297.3" r="2.65"/>
<circle cx="430.8" cy="303.4" r="2.65"/>
<circle cx="425.4" cy="309.2" r="2.65"/>
<circle cx="430.8" cy="309.2" r="2.65"/>
<circle cx="436.1" cy="309.2" r="2.65"/>
<circle cx="422.7" cy="327.7" r="2.65"/>
<circle cx="428.1" cy="327.7" r="2.65"/>
<circle cx="433.4" cy="327.7" r="2.65"/>
<circle cx="438.8" cy="327.7" r="2.65"/>
<circle cx="430.8" cy="341.9" r="2.65"/>
<circle cx="430.8" cy="348" r="2.65"/>
<circle cx="430.8" cy="361.5" r="2.65"/>
<circle cx="430.8" cy="372" r="2.65"/>
<circle cx="430.8" cy="377.8" r="2.65"/>
<circle cx="430.8" cy="393" r="2.65"/>
<circle cx="430.8" cy="420.2" r="2.65"/>
<circle cx="498.9" cy="304.4" r="2.65"/>
<circle cx="496.2" cy="310.4" r="2.65"/>
<circle cx="501.6" cy="310.4" r="2.65"/>
<circle cx="493.6" cy="316.2" r="2.65"/>
<circle cx="498.9" cy="316.2" r="2.65"/>
<circle cx="504.3" cy="316.2" r="2.65"/>
<circle cx="490.9" cy="322.2" r="2.65"/>
<circle cx="496.2" cy="322.2" r="2.65"/>
<circle cx="501.6" cy="322.2" r="2.65"/>
<circle cx="506.9" cy="322.2" r="2.65"/>
<circle cx="496.2" cy="328.2" r="2.65"/>
<circle cx="501.6" cy="328.2" r="2.65"/>
<circle cx="490.9" cy="334.4" r="2.65"/>
<circle cx="496.2" cy="334.4" r="2.65"/>
<circle cx="501.6" cy="334.4" r="2.65"/>
<circle cx="506.9" cy="334.4" r="2.65"/>
<circle cx="498.9" cy="340.4" r="2.65"/>
<circle cx="496.2" cy="346.4" r="2.65"/>
<circle cx="501.6" cy="346.4" r="2.65"/>
<circle cx="498.9" cy="354.5" r="2.65"/>
<circle cx="564.4" cy="309.5" r="2.65"/>
<circle cx="569.7" cy="309.5" r="2.65"/>
<circle cx="564.4" cy="315.5" r="2.65"/>
<circle cx="569.7" cy="315.5" r="2.65"/>
<circle cx="553.7" cy="321.7" r="2.65"/>
<circle cx="559" cy="321.7" r="2.65"/>
<circle cx="564.4" cy="321.7" r="2.65"/>
<circle cx="569.7" cy="321.7" r="2.65"/>
<circle cx="575.1" cy="321.7" r="2.65"/>
<circle cx="580.4" cy="321.7" r="2.65"/>
<circle cx="556.4" cy="327.7" r="2.65"/>
<circle cx="561.7" cy="327.7" r="2.65"/>
<circle cx="567.1" cy="327.7" r="2.65"/>
<circle cx="572.4" cy="327.7" r="2.65"/>
<circle cx="577.8" cy="327.7" r="2.65"/>
<circle cx="561.7" cy="333.7" r="2.65"/>
<circle cx="567.1" cy="333.7" r="2.65"/>
<circle cx="572.4" cy="333.7" r="2.65"/>
<circle cx="564.4" cy="339.7" r="2.65"/>
<circle cx="569.7" cy="339.7" r="2.65"/>
<circle cx="635.2" cy="268.7" r="2.65"/>
<circle cx="635.2" cy="283.6" r="2.65"/>
<circle cx="635.2" cy="313" r="2.65"/>
<circle cx="635.2" cy="328.6" r="2.65"/>
<circle cx="635.2" cy="335.1" r="2.65"/>
<circle cx="632.5" cy="340.9" r="2.65"/>
<circle cx="637.9" cy="340.9" r="2.65"/>
<circle cx="635.2" cy="346.7" r="2.65"/>
<circle cx="635.2" cy="352.9" r="2.65"/>
<circle cx="632.5" cy="365.6" r="2.65"/>
<circle cx="637.9" cy="365.6" r="2.65"/>
<circle cx="632.5" cy="371.4" r="2.65"/>
<circle cx="637.9" cy="371.4" r="2.65"/>
<circle cx="627.2" cy="390.7" r="2.65"/>
<circle cx="632.5" cy="390.7" r="2.65"/>
<circle cx="637.9" cy="390.7" r="2.65"/>
<circle cx="643.2" cy="390.7" r="2.65"/>
<circle cx="635.2" cy="416.1" r="2.65"/>
<circle cx="635.2" cy="429.5" r="2.65"/>
<circle cx="635.2" cy="441.9" r="2.65"/>
<circle cx="703.4" cy="268.3" r="2.65"/>
<circle cx="698" cy="280.7" r="2.65"/>
<circle cx="703.4" cy="280.7" r="2.65"/>
<circle cx="708.7" cy="280.7" r="2.65"/>
<circle cx="703.4" cy="286.5" r="2.65"/>
<circle cx="700.7" cy="292.6" r="2.65"/>
<circle cx="706" cy="292.6" r="2.65"/>
<circle cx="695.3" cy="298.5" r="2.65"/>
<circle cx="700.7" cy="298.5" r="2.65"/>
<circle cx="706" cy="298.5" r="2.65"/>
<circle cx="711.4" cy="298.5" r="2.65"/>
<circle cx="703.4" cy="304.6" r="2.65"/>
<circle cx="695.3" cy="310.8" r="2.65"/>
<circle cx="700.7" cy="310.8" r="2.65"/>
<circle cx="706" cy="310.8" r="2.65"/>
<circle cx="711.4" cy="310.8" r="2.65"/>
<circle cx="703.4" cy="316.6" r="2.65"/>
<circle cx="703.4" cy="326.8" r="2.65"/>
<circle cx="703.4" cy="333.7" r="2.65"/>
<circle cx="703.4" cy="339.5" r="2.65"/>
<circle cx="760.8" cy="315.6" r="2.65"/>
<circle cx="766.1" cy="315.6" r="2.65"/>
<circle cx="771.5" cy="315.6" r="2.65"/>
<circle cx="776.9" cy="315.6" r="2.65"/>
<circle cx="782.2" cy="315.6" r="2.65"/>
<circle cx="771.5" cy="321.6" r="2.65"/>
<circle cx="760.8" cy="327.7" r="2.65"/>
<circle cx="766.1" cy="327.7" r="2.65"/>
<circle cx="771.5" cy="327.7" r="2.65"/>
<circle cx="776.9" cy="327.7" r="2.65"/>
<circle cx="782.2" cy="327.7" r="2.65"/>
<circle cx="763.5" cy="333.7" r="2.65"/>
<circle cx="768.8" cy="333.7" r="2.65"/>
<circle cx="774.2" cy="333.7" r="2.65"/>
<circle cx="779.5" cy="333.7" r="2.65"/>
<circle cx="768.8" cy="339.6" r="2.65"/>
<circle cx="774.2" cy="339.6" r="2.65"/>
<circle cx="771.5" cy="345.6" r="2.65"/>
<circle cx="771.5" cy="351.6" r="2.65"/>
<circle cx="771.5" cy="358.1" r="2.65"/>
<text transform="translate(357.6,200.6) scale(1,1.09)" text-anchor="end" class="al">10</text>
<text transform="translate(357.6,465.4) scale(1,1.09)" text-anchor="end" class="al">-2</text>
<text transform="translate(425.8,200.6) scale(1,1.09)" text-anchor="end" class="al">10</text>
<text transform="translate(425.8,465.4) scale(1,1.09)" text-anchor="end" class="al">-5</text>
<line x1="428.5" y1="460.5" x2="434.5" y2="460.5" stroke="#a6a6a6"/>
<text transform="translate(493.9,200.6) scale(1,1.09)" text-anchor="end" class="al">96</text>
<text transform="translate(493.9,465.4) scale(1,1.09)" text-anchor="end" class="al">84</text>
<line x1="496.5" y1="196.5" x2="502.5" y2="196.5" stroke="#a6a6a6"/>
<line x1="496.5" y1="460.5" x2="502.5" y2="460.5" stroke="#a6a6a6"/>
<text transform="translate(562.1,200.6) scale(1,1.09)" text-anchor="end" class="al">96</text>
<text transform="translate(562.1,465.4) scale(1,1.09)" text-anchor="end" class="al">84</text>
<line x1="564.5" y1="196.5" x2="570.5" y2="196.5" stroke="#a6a6a6"/>
<line x1="564.5" y1="460.5" x2="570.5" y2="460.5" stroke="#a6a6a6"/>
<text transform="translate(630.2,200.6) scale(1,1.09)" text-anchor="end" class="al">10</text>
<text transform="translate(630.2,465.4) scale(1,1.09)" text-anchor="end" class="al">-2</text>
<text transform="translate(698.4,200.6) scale(1,1.09)" text-anchor="end" class="al">10</text>
<text transform="translate(698.4,465.4) scale(1,1.09)" text-anchor="end" class="al">-2</text>
<text transform="translate(766.5,200.6) scale(1,1.09)" text-anchor="end" class="al">96</text>
<text transform="translate(766.5,465.4) scale(1,1.09)" text-anchor="end" class="al">84</text>
<line x1="769.5" y1="196.5" x2="775.5" y2="196.5" stroke="#a6a6a6"/>
<line x1="769.5" y1="460.5" x2="775.5" y2="460.5" stroke="#a6a6a6"/>
<text transform="translate(368.5,501.5) rotate(-45)" text-anchor="end" class="rl">Random Normal</text>
<text transform="translate(437.5,501.5) rotate(-45)" text-anchor="end" class="rl">Random Normal 2</text>
<text transform="translate(505.5,501.5) rotate(-45)" text-anchor="end" class="rl">Random Normal 3</text>
<text transform="translate(573.5,501.5) rotate(-45)" text-anchor="end" class="rl">Random Normal 3 2</text>
<text transform="translate(641.5,501.5) rotate(-45)" text-anchor="end" class="rl">Random Normal 2 2</text>
<text transform="translate(709.5,501.5) rotate(-45)" text-anchor="end" class="rl">Random Normal 4</text>
<text transform="translate(778.5,501.5) rotate(-45)" text-anchor="end" class="rl">Random Normal 3 2 2</text><circle cx="859.5" cy="277.5" r="2.9"/><text transform="translate(821.4,328.2) rotate(90)" text-anchor="middle" class="zt" textLength="46" lengthAdjust="spacingAndGlyphs">Group Y</text>
</svg>
</body></html>
